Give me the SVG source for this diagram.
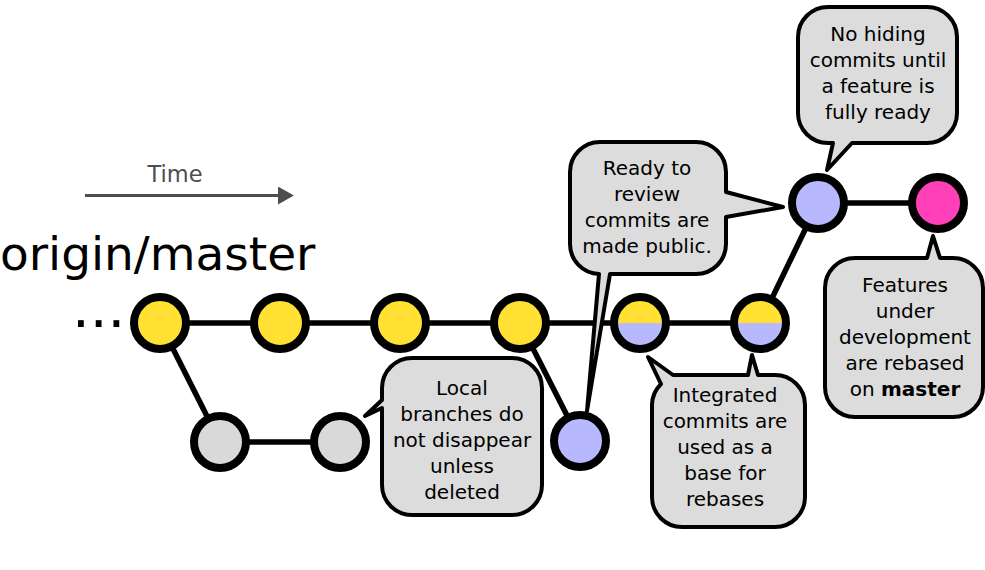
<svg xmlns="http://www.w3.org/2000/svg" width="985" height="570" viewBox="0 0 985 570">
<defs>
<style>
.edge{stroke:#000;stroke-width:5.5;fill:none}
.node{stroke:#000;stroke-width:8}
.yellow{fill:#ffe033}
.blue{fill:#b8b8ff}
.pink{fill:#ff40b8}
.gray{fill:#d9d9d9}
.bubble{fill:#dcdcdc;stroke:#000;stroke-width:4;stroke-linejoin:round}
.t{font-family:"DejaVu Sans","Noto Sans",sans-serif;font-size:20px;fill:#000;text-anchor:middle}
</style>
<marker id="arr" markerWidth="6" markerHeight="6" refX="0" refY="3" orient="auto" markerUnits="strokeWidth">
<path d="M0,0 L5.3,3 L0,6 Z" fill="#4d4d4d"/>
</marker>
</defs>
<rect width="985" height="570" fill="#fff"/>

<g id="time">
<line x1="85" y1="195.5" x2="278" y2="195.5" stroke="#4d4d4d" stroke-width="3" marker-end="url(#arr)"/>
<text x="175" y="182" font-family="DejaVu Sans, sans-serif" font-size="22.5" fill="#4d4d4d" text-anchor="middle">Time</text>
</g>
<text id="label-origin" x="0" y="270" font-family="DejaVu Sans, sans-serif" font-size="47" fill="#000">origin/master</text>
<text id="dots" x="72" y="327" font-family="DejaVu Sans, sans-serif" font-size="56" fill="#000">...</text>

<g id="connectors">
<line class="edge" x1="160" y1="323" x2="760" y2="323"/>
<line class="edge" x1="160" y1="323" x2="220" y2="442"/>
<line class="edge" x1="220" y1="442" x2="340" y2="442"/>
<line class="edge" x1="520" y1="323" x2="580" y2="441"/>
<line class="edge" x1="760" y1="323" x2="818" y2="203"/>
<line class="edge" x1="818" y1="203" x2="938" y2="203"/>
</g>

<g id="n1"><circle class="node yellow" cx="160" cy="323" r="26"/></g>
<g id="n2"><circle class="node yellow" cx="280" cy="323" r="26"/></g>
<g id="n3"><circle class="node yellow" cx="400" cy="323" r="26"/></g>
<g id="n4"><circle class="node yellow" cx="520" cy="323" r="26"/></g>
<g id="n5">
<path class="yellow" d="M614,323 A26 26 0 0 1 666,323 Z"/>
<path class="blue" d="M614,323 A26 26 0 0 0 666,323 Z"/>
<circle class="node" cx="640" cy="323" r="26" fill="none"/>
</g>
<g id="n6">
<path class="yellow" d="M734,323 A26 26 0 0 1 786,323 Z"/>
<path class="blue" d="M734,323 A26 26 0 0 0 786,323 Z"/>
<circle class="node" cx="760" cy="323" r="26" fill="none"/>
</g>
<g id="l1"><circle class="node gray" cx="220" cy="442" r="26"/></g>
<g id="l2"><circle class="node gray" cx="340" cy="442" r="26"/></g>
<g id="r1"><circle class="node blue" cx="580" cy="441" r="26"/></g>
<g id="f1"><circle class="node blue" cx="818" cy="203" r="26"/></g>
<g id="f2"><circle class="node pink" cx="938" cy="203" r="26"/></g>

<g id="callout-ready">
<path class="bubble" d="M600,142 H696 A30 30 0 0 1 726,172 V192 L783,207 L726,217 V244 A30 30 0 0 1 696,274 H610 L587,411 L599,274 A30 30 0 0 1 570,244 V172 A30 30 0 0 1 600,142 Z"/>
<text class="t" x="647" y="175">Ready to</text>
<text class="t" x="647" y="201">review</text>
<text class="t" x="647" y="227">commits are</text>
<text class="t" x="647" y="253">made public.</text>
</g>

<g id="callout-local">
<path class="bubble" d="M412,358 H512 A30 30 0 0 1 542,388 V485 A30 30 0 0 1 512,515 H412 A30 30 0 0 1 382,485 V408 L365,416 L382,400 V388 A30 30 0 0 1 412,358 Z"/>
<text class="t" x="462" y="395">Local</text>
<text class="t" x="462" y="421">branches do</text>
<text class="t" x="462" y="447">not disappear</text>
<text class="t" x="462" y="473">unless</text>
<text class="t" x="462" y="499">deleted</text>
</g>

<g id="callout-integrated">
<path class="bubble" d="M673,375 H748 L752,355 L758,375 H775 A30 30 0 0 1 805,405 V497 A30 30 0 0 1 775,527 H682 A30 30 0 0 1 652,497 V405 A30 30 0 0 1 661,384 L648,357 Z"/>
<text class="t" x="725" y="402">Integrated</text>
<text class="t" x="725" y="428">commits are</text>
<text class="t" x="725" y="454">used as a</text>
<text class="t" x="725" y="480">base for</text>
<text class="t" x="725" y="506">rebases</text>
</g>

<g id="callout-hiding">
<path class="bubble" d="M828,7 H927 A30 30 0 0 1 957,37 V113 A30 30 0 0 1 927,143 H852 L827,170 L833,143 H828 A30 30 0 0 1 798,113 V37 A30 30 0 0 1 828,7 Z"/>
<text class="t" x="878" y="41">No hiding</text>
<text class="t" x="878" y="67">commits until</text>
<text class="t" x="878" y="93">a feature is</text>
<text class="t" x="878" y="119">fully ready</text>
</g>

<g id="callout-features">
<path class="bubble" d="M855,258 H927 L933,236 L940,258 H953 A30 30 0 0 1 983,288 V387 A30 30 0 0 1 953,417 H855 A30 30 0 0 1 825,387 V288 A30 30 0 0 1 855,258 Z"/>
<text class="t" x="905" y="292">Features</text>
<text class="t" x="905" y="318">under</text>
<text class="t" x="905" y="344">development</text>
<text class="t" x="905" y="370">are rebased</text>
<text class="t" x="905" y="396">on <tspan font-weight="bold">master</tspan></text>
</g>
</svg>
